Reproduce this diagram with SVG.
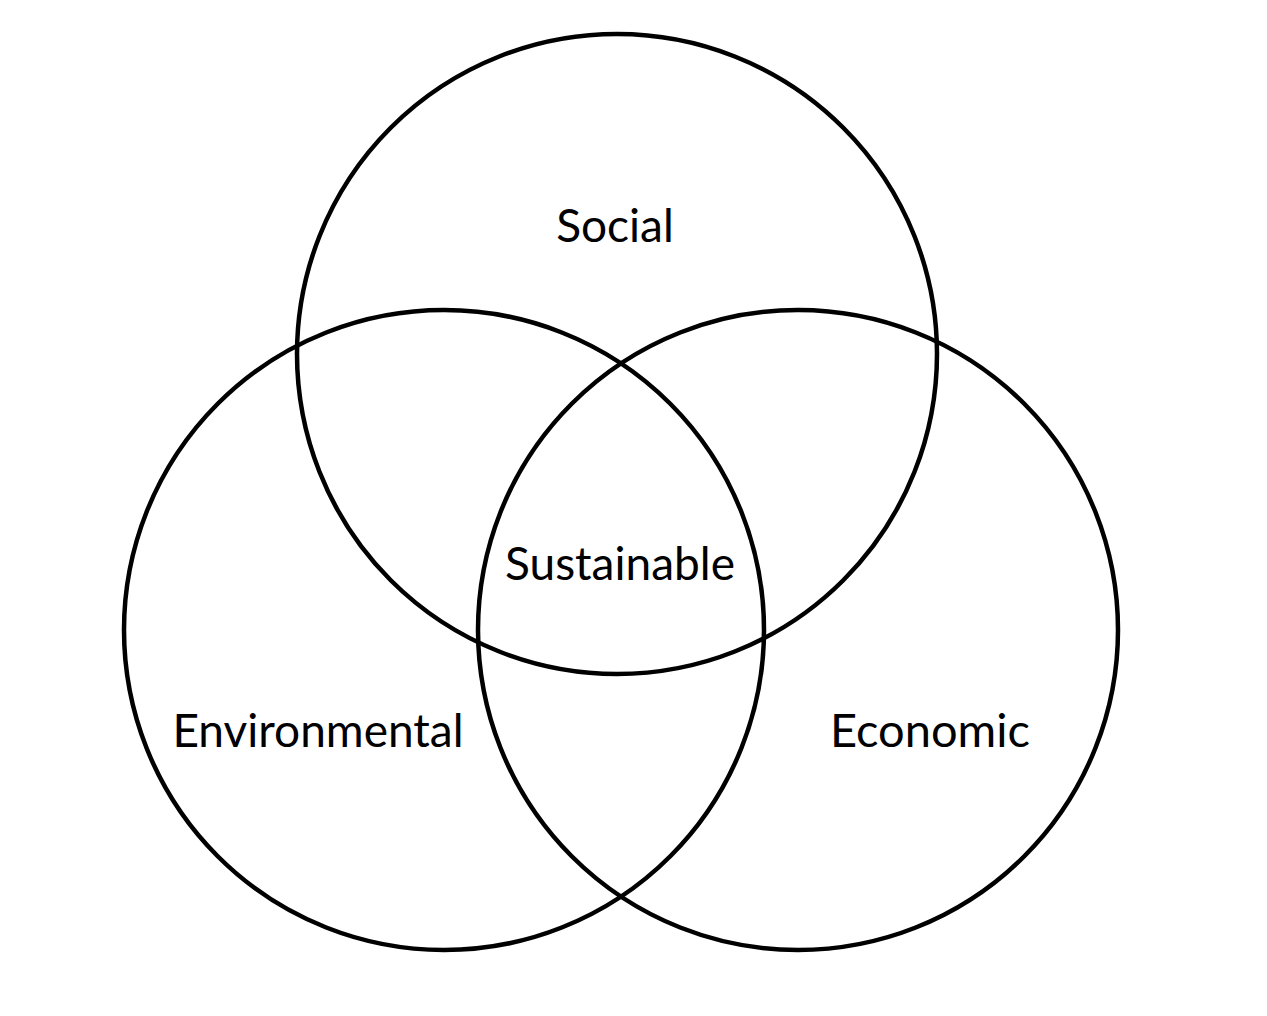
<svg xmlns="http://www.w3.org/2000/svg" width="1267" height="1016" viewBox="0 0 1267 1016">
<style>
.c{fill:none;stroke:#000;stroke-width:4.5}
.t{font-family:Lato,"Noto Sans",sans-serif;font-size:46px;fill:#000;text-anchor:middle}
</style>
<rect width="1267" height="1016" fill="#fff"/>
<g id="social"><circle class="c" cx="617" cy="354" r="320"/><text class="t" x="615" y="242">Social</text></g>
<g id="environmental"><circle class="c" cx="444" cy="630" r="320"/><text class="t" x="318" y="747">Environmental</text></g>
<g id="economic"><circle class="c" cx="798" cy="630" r="320"/><text class="t" x="930" y="747" style="font-size:47px">Economic</text></g>
<g id="sustainable"><text class="t" x="620" y="580">Sustainable</text></g>
</svg>
